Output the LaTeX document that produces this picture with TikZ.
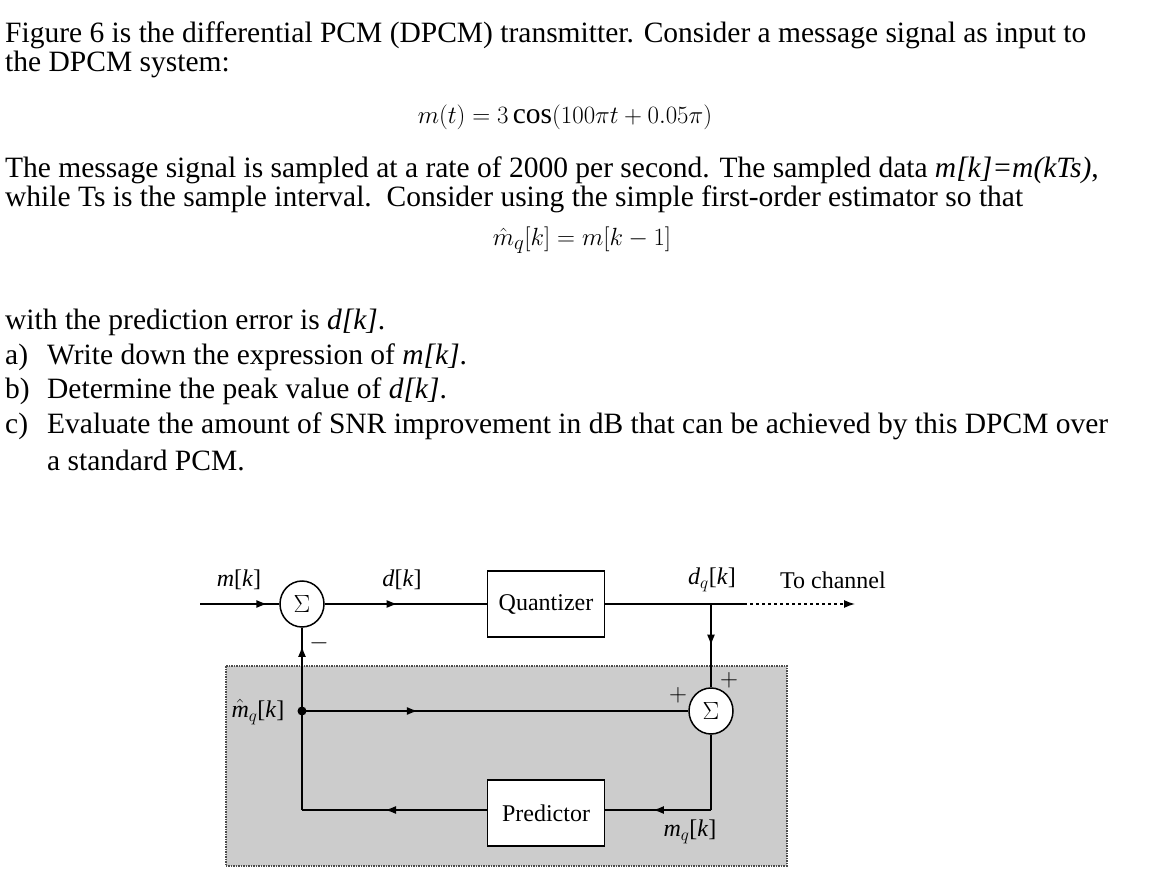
\documentclass[tikz,border=0pt]{standalone}
\usepackage{fontspec}
\setmainfont{Liberation Serif}
\usepackage{amsmath}
\usetikzlibrary{decorations.markings,arrows.meta,shapes.geometric}
\begin{document}
\begin{tikzpicture}[x=1pt,y=-1pt,
  txt/.style={anchor=west,inner sep=0,font=\fontsize{29.5}{34}\selectfont},
  lbl/.style={inner sep=0,font=\fontsize{24}{28}\selectfont},
  blk/.style={draw,line width=1.8pt,minimum width=117pt,minimum height=66pt,font=\fontsize{24}{28}\selectfont},
  sm/.style={draw,line width=1.5pt,ellipse,minimum width=44pt,minimum height=46pt,inner sep=0,font=\fontsize{25}{28}\selectfont},
  ln/.style={line width=1.4pt},
  mid/.style={postaction={decorate},decoration={markings,mark=at position #1 with {\arrow{Latex[length=11pt,width=8pt]}}}}]
\useasboundingbox (0,0) rectangle (1171,875);
\node[txt] (t1) at (5,35) {Figure 6 is the differential PCM (DPCM) transmitter. Consider a message signal as input to};
\node[txt] (t2) at (5,64) {the DPCM system:};
\node[inner sep=0,font=\fontsize{29.5}{34}\selectfont] (e1) at (565,117) {$m(t)=3\cos(100\pi t+0.05\pi)$};
\node[txt] (t3) at (5,170) {The message signal is sampled at a rate of 2000 per second. The sampled data \textit{m[k]=m(kTs)},};
\node[txt] (t4) at (5,199) {while Ts is the sample interval.\ \ Consider using the simple first-order estimator so that};
\node[inner sep=0,font=\fontsize{29.5}{34}\selectfont] (e2) at (582,240) {$\hat m_q[k]=m[k-1]$};
\node[txt] (t5) at (5,322) {with the prediction error is \textit{d[k]}.};
\node[txt] (a) at (5,357) {a)};
\node[txt] (at) at (47,357) {Write down the expression of \textit{m[k]}.};
\node[txt] (b) at (5,391) {b)};
\node[txt] (bt) at (47,391) {Determine the peak value of \textit{d[k]}.};
\node[txt] (c) at (5,426) {c)};
\node[txt] (ct) at (47,426) {Evaluate the amount of SNR improvement in dB that can be achieved by this DPCM over};
\node[txt] (ct2) at (47,460) {a standard PCM.};
% diagram
\node[draw,densely dotted,line width=1.5pt,draw=black!70,fill=black!20,minimum width=561pt,minimum height=200pt,anchor=north west] (shade) at (225,665) {};
\node[sm] (s1) at (302,604) {$\Sigma$};
\node[sm,fill=white] (s2) at (711,711) {$\Sigma$};
\node[blk,fill=white] (q) at (546,604) {Quantizer};
\node[blk,fill=white] (p) at (546,813) {Predictor};
\coordinate (in) at (200,604);
\coordinate (br) at (711,604);
\coordinate (ch) at (855,604);
\coordinate (dot) at (302,711);
\coordinate (pr) at (711,810);
\coordinate (pl) at (302,810);
\draw[ln,mid=0.85] (in) -- (s1);
\draw[ln,mid=0.45] (s1) -- (q);
\draw[ln] (q) -- (br) -- (744,604);
\draw[ln,dashed,-{Latex[length=11pt,width=8pt]}] (744,604) -- (ch);
\draw[ln,mid=0.5] (br) -- (s2);
\draw[ln,mid=0.3] (dot) -- (s2);
\draw[ln] (s2) -- (pr);
\draw[ln,mid=0.55] (pr) -- (p.east |- pr);
\draw[ln,mid=0.55] (p.west |- pl) -- (pl);
\draw[ln,mid=0.9] (pl) -- (s1);
\fill (dot) circle (4.5pt);
\node[lbl] (lm) at (239,580) {\textit{m}[\textit{k}]};
\node[lbl] (ld) at (402,580) {\textit{d}[\textit{k}]};
\node[lbl] (ldq) at (712,580) {\textit{d}$_q$[\textit{k}]};
\node[lbl] (lch) at (833,580) {To channel};
\node[lbl] (lmh) at (258,712) {$\hat{\textit{m}}_q$[\textit{k}]};
\node[lbl] (lmq) at (690,832) {\textit{m}$_q$[\textit{k}]};
\node[lbl] (minus) at (319,643) {$-$};
\node[lbl] (p1) at (729,680) {$+$};
\node[lbl] (p2) at (678,695) {$+$};
\end{tikzpicture}
\end{document}
